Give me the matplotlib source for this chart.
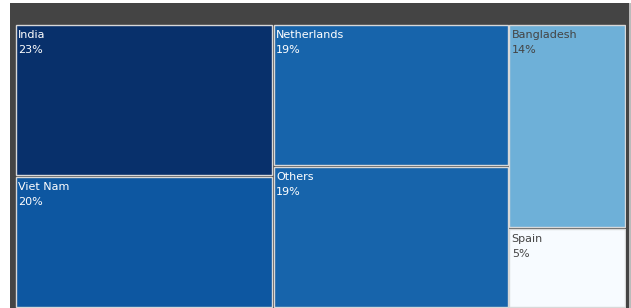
import matplotlib.pyplot as plt
from matplotlib.patches import Rectangle

# ============================================================
# DATA
# ============================================================

labels = ["India", "Viet Nam", "Netherlands", "Others", "Bangladesh", "Spain"]
values = [22.6, 19.6, 19.3, 19.3, 13.8, 5.4]   # share
pct_labels = ["23%", "20%", "19%", "19%", "14%", "5%"]
colors = ["#08306b", "#0d57a1", "#1764ab", "#1764ab", "#6eb0d8", "#f7fbff"]
text_colors = ["white", "white", "white", "white", "#444444", "#444444"]

# cells grouped into columns (indices into the lists above)
columns = [[0, 1], [2, 3], [4, 5]]

# ============================================================
# FIGURE
# ============================================================

W, H = 631, 308
fig = plt.figure(figsize=(W / 100, H / 100), dpi=100)
fig.patch.set_facecolor("white")

# dark frame behind the treemap
frame = fig.add_axes([10 / W, 0, 619 / W, 305 / H])
frame.set_facecolor("#444444")
frame.set_xticks([])
frame.set_yticks([])
for s in frame.spines.values():
    s.set_visible(False)

# thin light edge on the right
edge = fig.add_axes([629 / W, 0, 2 / W, 305 / H])
edge.set_facecolor("#bbbbbb")
edge.set_xticks([])
edge.set_yticks([])
for s in edge.spines.values():
    s.set_visible(False)

AW, AH = 611, 284
ax = fig.add_axes([15 / W, 0, AW / W, AH / H])
ax.set_facecolor("#444444")
ax.set_xlim(0, AW)
ax.set_ylim(AH, 0)
ax.axis("off")

gap = 0.8
total = sum(values)
x0 = 0.0
for col in columns:
    col_sum = sum(values[i] for i in col)
    w = col_sum / total * AW
    y0 = 0.0
    for i in col:
        h = values[i] / col_sum * AH
        ax.add_patch(Rectangle((x0 + gap, y0 + gap), w - 2 * gap, h - 2 * gap,
                               facecolor=colors[i],
                               edgecolor="#d8d8d8",
                               linewidth=1.0))
        ax.annotate(f"{labels[i]}\n{pct_labels[i]}",
                    xy=(x0, y0),
                    xytext=(2.2, -4.3),
                    textcoords="offset points",
                    ha="left", va="top",
                    fontsize=8,
                    linespacing=1.6,
                    color=text_colors[i])
        y0 += h
    x0 += w

fig.savefig("out.png", dpi=100)
